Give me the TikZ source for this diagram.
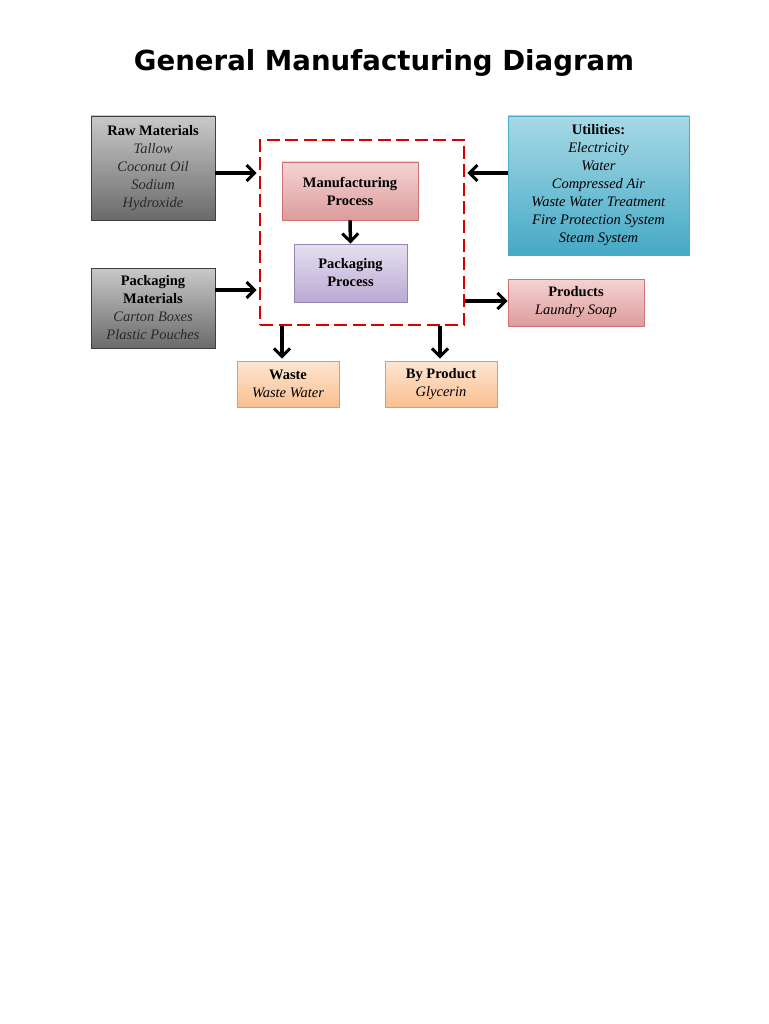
\documentclass[tikz,border=0pt]{standalone}
\usepackage{fontspec}
\setmainfont{Liberation Serif}
\newfontfamily\titlefont{DejaVu Sans}
\usetikzlibrary{arrows.meta,calc}
\definecolor{grayT}{HTML}{C9C9C9}
\definecolor{grayB}{HTML}{6A6A6A}
\definecolor{pinkT}{HTML}{F5D3D3}
\definecolor{pinkB}{HTML}{DD9C9C}
\definecolor{pinkD}{HTML}{C0504D}
\definecolor{lavT}{HTML}{E6E0F0}
\definecolor{lavB}{HTML}{B9AAD3}
\definecolor{lavD}{HTML}{8064A2}
\definecolor{bluT}{HTML}{A7D9E6}
\definecolor{bluB}{HTML}{45A9C6}
\definecolor{bluD}{HTML}{4BACC6}
\definecolor{orT}{HTML}{FDE6D4}
\definecolor{orB}{HTML}{FABF8F}
\definecolor{orD}{HTML}{F79646}
\definecolor{itxt}{HTML}{2A2A2A}
\begin{document}
\begin{tikzpicture}[x=1pt,y=-1pt,
  box/.style={draw, line width=0.8pt, align=center, inner sep=0pt, font=\fontsize{14.5}{18}\selectfont},
  graybox/.style={box, draw=black!75, top color=grayT, bottom color=grayB},
  pinkbox/.style={box, draw=pinkD!80, top color=pinkT, bottom color=pinkB},
  lavbox/.style={box, draw=lavD!80, top color=lavT, bottom color=lavB},
  blubox/.style={box, draw=bluD, top color=bluT, bottom color=bluB},
  orbox/.style={box, draw=orD, top color=orT, bottom color=orB},
  flow/.style={line width=3.5pt, -{Straight Barb[length=8pt,width=16pt,line width=3pt]}},
  frame/.style={draw=red!85!black, line width=2.6pt, dash pattern=on 13pt off 5.5pt},
]
\useasboundingbox (0,0) rectangle (768,1024);
\fill[white] (0,0) rectangle (768,1024);

\node[font=\titlefont\bfseries\fontsize{27.6}{30}\selectfont] (title) at (384,63) {General Manufacturing Diagram};

\node[graybox, minimum width=124pt, minimum height=104pt] (raw) at (153,168)
  {\textbf{Raw Materials}\\ \textit{\color{itxt}Tallow}\\ \textit{\color{itxt}Coconut Oil}\\ \textit{\color{itxt}Sodium}\\ \textit{\color{itxt}Hydroxide}};
\node[graybox, minimum width=124pt, minimum height=80pt] (pkgmat) at (153,308)
  {\textbf{Packaging}\\ \textbf{Materials}\\ \textit{\color{itxt}Carton Boxes}\\ \textit{\color{itxt}Plastic Pouches}};

\node[frame, minimum width=204pt, minimum height=185pt] (fr) at (362,232.5) {};

\node[pinkbox, minimum width=136pt, minimum height=58pt] (mfg) at (350,191)
  {\textbf{Manufacturing}\\ \textbf{Process}};
\node[lavbox, minimum width=113pt, minimum height=58pt] (pack) at (350.5,273)
  {\textbf{Packaging}\\ \textbf{Process}};

\node[blubox, minimum width=181pt, minimum height=139pt] (util) at (598.5,185.5)
  {\textbf{Utilities:}\\ \textit{Electricity}\\ \textit{Water}\\ \textit{Compressed Air}\\ \textit{Waste Water Treatment}\\ \textit{Fire Protection System}\\ \textit{Steam System}};

\node[pinkbox, minimum width=136pt, minimum height=47pt] (prod) at (576,302.5)
  {\textbf{Products}\\ \textit{Laundry Soap}};

\node[orbox, minimum width=102pt, minimum height=46pt] (waste) at (288,384)
  {\textbf{Waste}\\ \textit{Waste Water}};
\node[orbox, minimum width=112pt, minimum height=46pt] (byp) at (441,384)
  {\textbf{By Product}\\ \textit{Glycerin}};

\draw[flow] ([yshift=-5pt]raw.east) -- ([xshift=-2pt,yshift=-5pt]raw.east -| fr.west);
\draw[flow] ([yshift=18pt]pkgmat.east) -- ([xshift=-2pt,yshift=18pt]pkgmat.east -| fr.west);
\draw[flow] ([yshift=12.5pt]util.west) -- ([xshift=2pt,yshift=12.5pt]util.west -| fr.east);
\draw[flow] ([yshift=1.5pt]prod.west -| fr.east) -- ([yshift=1.5pt]prod.west);
\draw[flow] ([xshift=-6pt]waste.north |- fr.south) -- ([xshift=-6pt,yshift=2pt]waste.north);
\draw[flow] ([xshift=-1pt]byp.north |- fr.south) -- ([xshift=-1pt,yshift=2pt]byp.north);
\draw[flow] (mfg.south) -- (pack.north);
\end{tikzpicture}
\end{document}
